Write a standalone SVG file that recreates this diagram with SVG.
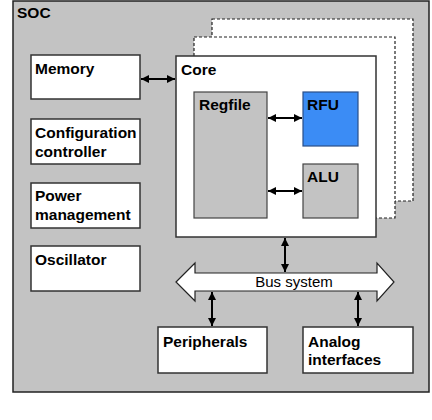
<svg xmlns="http://www.w3.org/2000/svg" width="432" height="420" viewBox="0 0 432 420">
<style>
.box{fill:#ffffff;stroke:#333333;stroke-width:1.5}
.gbox{fill:#c3c3c3;stroke:#444444;stroke-width:1.2}
.dash{fill:#ffffff;stroke:#222222;stroke-width:1.2;stroke-dasharray:3 2}
.lbl{font-family:"Liberation Sans",Arial,sans-serif;font-weight:bold;font-size:15.5px;fill:#000}
.conn{stroke:#000;stroke-width:2;fill:none;marker-start:url(#ah);marker-end:url(#ah)}
</style>
<defs>
<marker id="ah" viewBox="0 0 10 10" refX="10" refY="5" markerWidth="4" markerHeight="5" orient="auto-start-reverse">
<path d="M0,0 L10,5 L0,10 z" fill="#000"/>
</marker>
</defs>
<rect x="0" y="0" width="432" height="420" fill="#ffffff"/>
<g id="soc">
<rect x="13" y="1" width="416" height="391" fill="#c3c3c3" stroke="#222222" stroke-width="1.5"/>
<text class="lbl" x="17" y="18">SOC</text>
</g>
<g id="core-copies">
<rect class="dash" x="212" y="19" width="201" height="182"/>
<rect class="dash" x="194" y="37" width="201" height="181"/>
</g>
<g id="core">
<rect class="box" x="176" y="56" width="200" height="181"/>
<text class="lbl" x="181" y="75">Core</text>
</g>
<g id="regfile">
<rect class="gbox" x="194" y="92" width="73" height="126"/>
<text class="lbl" x="199" y="110">Regfile</text>
</g>
<g id="rfu">
<rect x="303" y="92" width="55" height="54" fill="#3b8cf5" stroke="#2a4f88" stroke-width="1.2"/>
<text class="lbl" x="307" y="110">RFU</text>
</g>
<g id="alu">
<rect class="gbox" x="303" y="164" width="55" height="54"/>
<text class="lbl" x="307" y="182">ALU</text>
</g>
<g id="memory">
<rect class="box" x="31" y="55" width="109" height="44"/>
<text class="lbl" x="35" y="74">Memory</text>
</g>
<g id="config">
<rect class="box" x="31" y="119" width="109" height="45"/>
<text class="lbl" x="35" y="138">Configuration</text>
<text class="lbl" x="35" y="157">controller</text>
</g>
<g id="power">
<rect class="box" x="31" y="183" width="109" height="45"/>
<text class="lbl" x="35" y="201">Power</text>
<text class="lbl" x="35" y="220">management</text>
</g>
<g id="oscillator">
<rect class="box" x="31" y="246" width="109" height="45"/>
<text class="lbl" x="35" y="265">Oscillator</text>
</g>
<g id="bus">
<polygon points="176,282 195,263 195,273 377,273 377,263 394,282 377,301 377,291 195,291 195,301" fill="#ffffff" stroke="#222222" stroke-width="1.2"/>
<text x="294" y="287" text-anchor="middle" font-family="Liberation Sans, Arial, sans-serif" font-size="15" fill="#000">Bus system</text>
</g>
<g id="peripherals">
<rect class="box" x="158" y="327" width="109" height="46"/>
<text class="lbl" x="163" y="347">Peripherals</text>
</g>
<g id="analog">
<rect class="box" x="303" y="327" width="110" height="46"/>
<text class="lbl" x="308" y="347">Analog</text>
<text class="lbl" x="308" y="365">interfaces</text>
</g>
<g id="connectors">
<line class="conn" x1="141" y1="79" x2="175" y2="79"/>
<line class="conn" x1="268" y1="118" x2="302" y2="118"/>
<line class="conn" x1="268" y1="191" x2="302" y2="191"/>
<line class="conn" x1="285" y1="238" x2="285" y2="272"/>
<line class="conn" x1="212" y1="292" x2="212" y2="326"/>
<line class="conn" x1="358" y1="292" x2="358" y2="326"/>
</g>
</svg>
